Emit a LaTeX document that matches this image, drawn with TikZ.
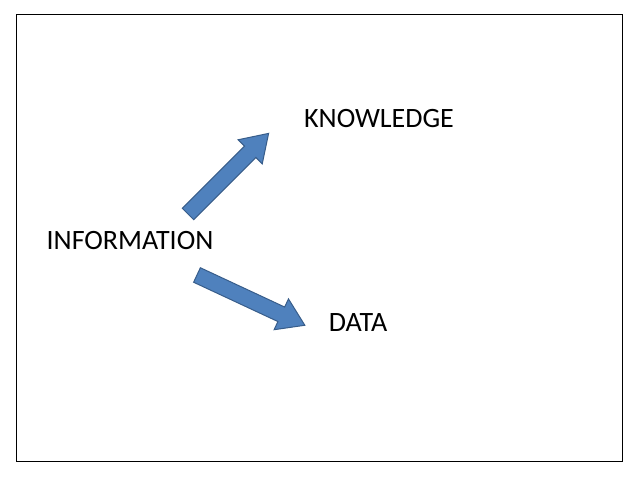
\documentclass[tikz,border=0pt]{standalone}
\usepackage{fontspec}
\setmainfont{Carlito}
\definecolor{afill}{HTML}{4F81BD}
\definecolor{aline}{HTML}{385D8A}
\begin{document}
\begin{tikzpicture}[x=1pt,y=-1pt,
  lbl/.style={font=\fontsize{28}{32}\selectfont, inner sep=0pt},
  blk/.style={draw=aline, fill=afill, line width=1pt, line join=miter}]
\useasboundingbox (0,0) rectangle (638,478);
\draw[line width=1pt] (16,15) rectangle (622,462);
\node[lbl] (k) at (379,119) {KNOWLEDGE};
\node[lbl] (i) at (130,241) {INFORMATION};
\node[lbl] (d) at (358,323) {DATA};
\begin{scope}[shift={(188,214)}, rotate=45]
\draw[blk] (0,-8) -- (88,-8) -- (88,-17) -- (114,0) -- (88,17) -- (88,8) -- (0,8) -- cycle;
\end{scope}
\begin{scope}[shift={(197,275)}, rotate=-25]
\draw[blk] (0,-8) -- (93,-8) -- (93,-17) -- (119,0) -- (93,17) -- (93,8) -- (0,8) -- cycle;
\end{scope}
\end{tikzpicture}
\end{document}
